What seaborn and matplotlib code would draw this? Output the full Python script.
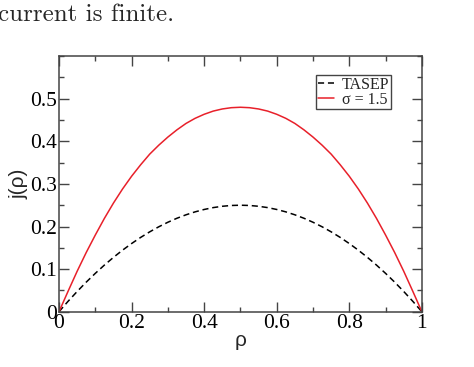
import matplotlib
matplotlib.use('Agg')
import matplotlib.pyplot as plt
import seaborn as sns
import pandas as pd
from matplotlib.ticker import MultipleLocator

# values (every 0.025 in rho)
rho = [0.0, 0.025, 0.05, 0.075, 0.1, 0.125, 0.15, 0.175, 0.2, 0.225, 0.25,
       0.275, 0.3, 0.325, 0.35, 0.375, 0.4, 0.425, 0.45, 0.475, 0.5,
       0.525, 0.55, 0.575, 0.6, 0.625, 0.65, 0.675, 0.7, 0.725, 0.75,
       0.775, 0.8, 0.825, 0.85, 0.875, 0.9, 0.925, 0.95, 0.975, 1.0]
j_tasep = [0.0, 0.0244, 0.0475, 0.0694, 0.09, 0.1094, 0.1275, 0.1444, 0.16, 0.1744, 0.1875,
           0.1994, 0.21, 0.2194, 0.2275, 0.2344, 0.24, 0.2444, 0.2475, 0.2494, 0.25,
           0.2494, 0.2475, 0.2444, 0.24, 0.2344, 0.2275, 0.2194, 0.21, 0.1994, 0.1875,
           0.1744, 0.16, 0.1444, 0.1275, 0.1094, 0.09, 0.0694, 0.0475, 0.0244, 0.0]
j_sigma = [0.0, 0.048, 0.095, 0.139, 0.18, 0.219, 0.255, 0.288, 0.318, 0.345, 0.37,
           0.391, 0.41, 0.427, 0.442, 0.454, 0.4635, 0.471, 0.476, 0.479, 0.48,
           0.479, 0.476, 0.471, 0.4635, 0.454, 0.442, 0.427, 0.41, 0.391, 0.37,
           0.345, 0.318, 0.288, 0.255, 0.219, 0.18, 0.139, 0.095, 0.048, 0.0]
series_labels = ["TASEP", "σ = 1.5"]

df = pd.concat([
    pd.DataFrame({"rho": rho, "j": j_tasep, "series": series_labels[0]}),
    pd.DataFrame({"rho": rho, "j": j_sigma, "series": series_labels[1]}),
])

sns.set_style("ticks")
plt.rcParams['font.family'] = ['Liberation Serif', 'DejaVu Serif']

fig = plt.figure(figsize=(4.74, 3.67), dpi=100)
ax = fig.add_axes([0.1245, 0.1507, 0.7655, 0.6963])

sns.lineplot(data=df, x="rho", y="j", hue="series", style="series",
             palette={series_labels[0]: "black", series_labels[1]: "#e8202a"},
             dashes={series_labels[0]: (4, 2.5), series_labels[1]: ""},
             linewidth=1.1, ax=ax, sort=False)

ax.set_xlim(0, 1)
ax.set_ylim(0, 0.6)
ax.xaxis.set_minor_locator(MultipleLocator(0.1))
ax.yaxis.set_minor_locator(MultipleLocator(0.05))
ax.set_xticks([0, 0.2, 0.4, 0.6, 0.8, 1.0])
ax.set_xticklabels(["0", "0.2", "0.4", "0.6", "0.8", "1"])
ax.set_yticks([0, 0.1, 0.2, 0.3, 0.4, 0.5])
ax.set_yticklabels(["0", "0.1", "0.2", "0.3", "0.4", "0.5"])
ax.tick_params(which='both', direction='in', top=True, right=True,
               colors='#444444', labelcolor='black', labelsize=15.5, pad=1.5)
ax.tick_params(which='major', length=7, width=1)
ax.tick_params(which='minor', length=3.5, width=1)
for s in ax.spines.values():
    s.set_color('#444444')
    s.set_linewidth(1.1)

ax.set_xlabel("ρ", family=['Liberation Sans', 'DejaVu Sans'], fontsize=15, labelpad=-1)
ax.set_ylabel("j(ρ)", family=['Liberation Sans', 'DejaVu Sans'], fontsize=15, labelpad=1)

leg = ax.legend(loc='upper right', bbox_to_anchor=(0.915, 0.926), fontsize=11.5,
                frameon=True, fancybox=False, handlelength=1.0, handletextpad=0.5,
                borderpad=0.1, labelspacing=-0.05, borderaxespad=0)
leg.get_frame().set_edgecolor('#444444')
leg.get_frame().set_linewidth(1.0)
leg.get_frame().set_alpha(1)

fig.text(-0.004, 0.99, "current is finite.", family=['cmr10', 'DejaVu Serif'],
         fontsize=18, va='top', ha='left')

fig.savefig("out.png", dpi=100)
